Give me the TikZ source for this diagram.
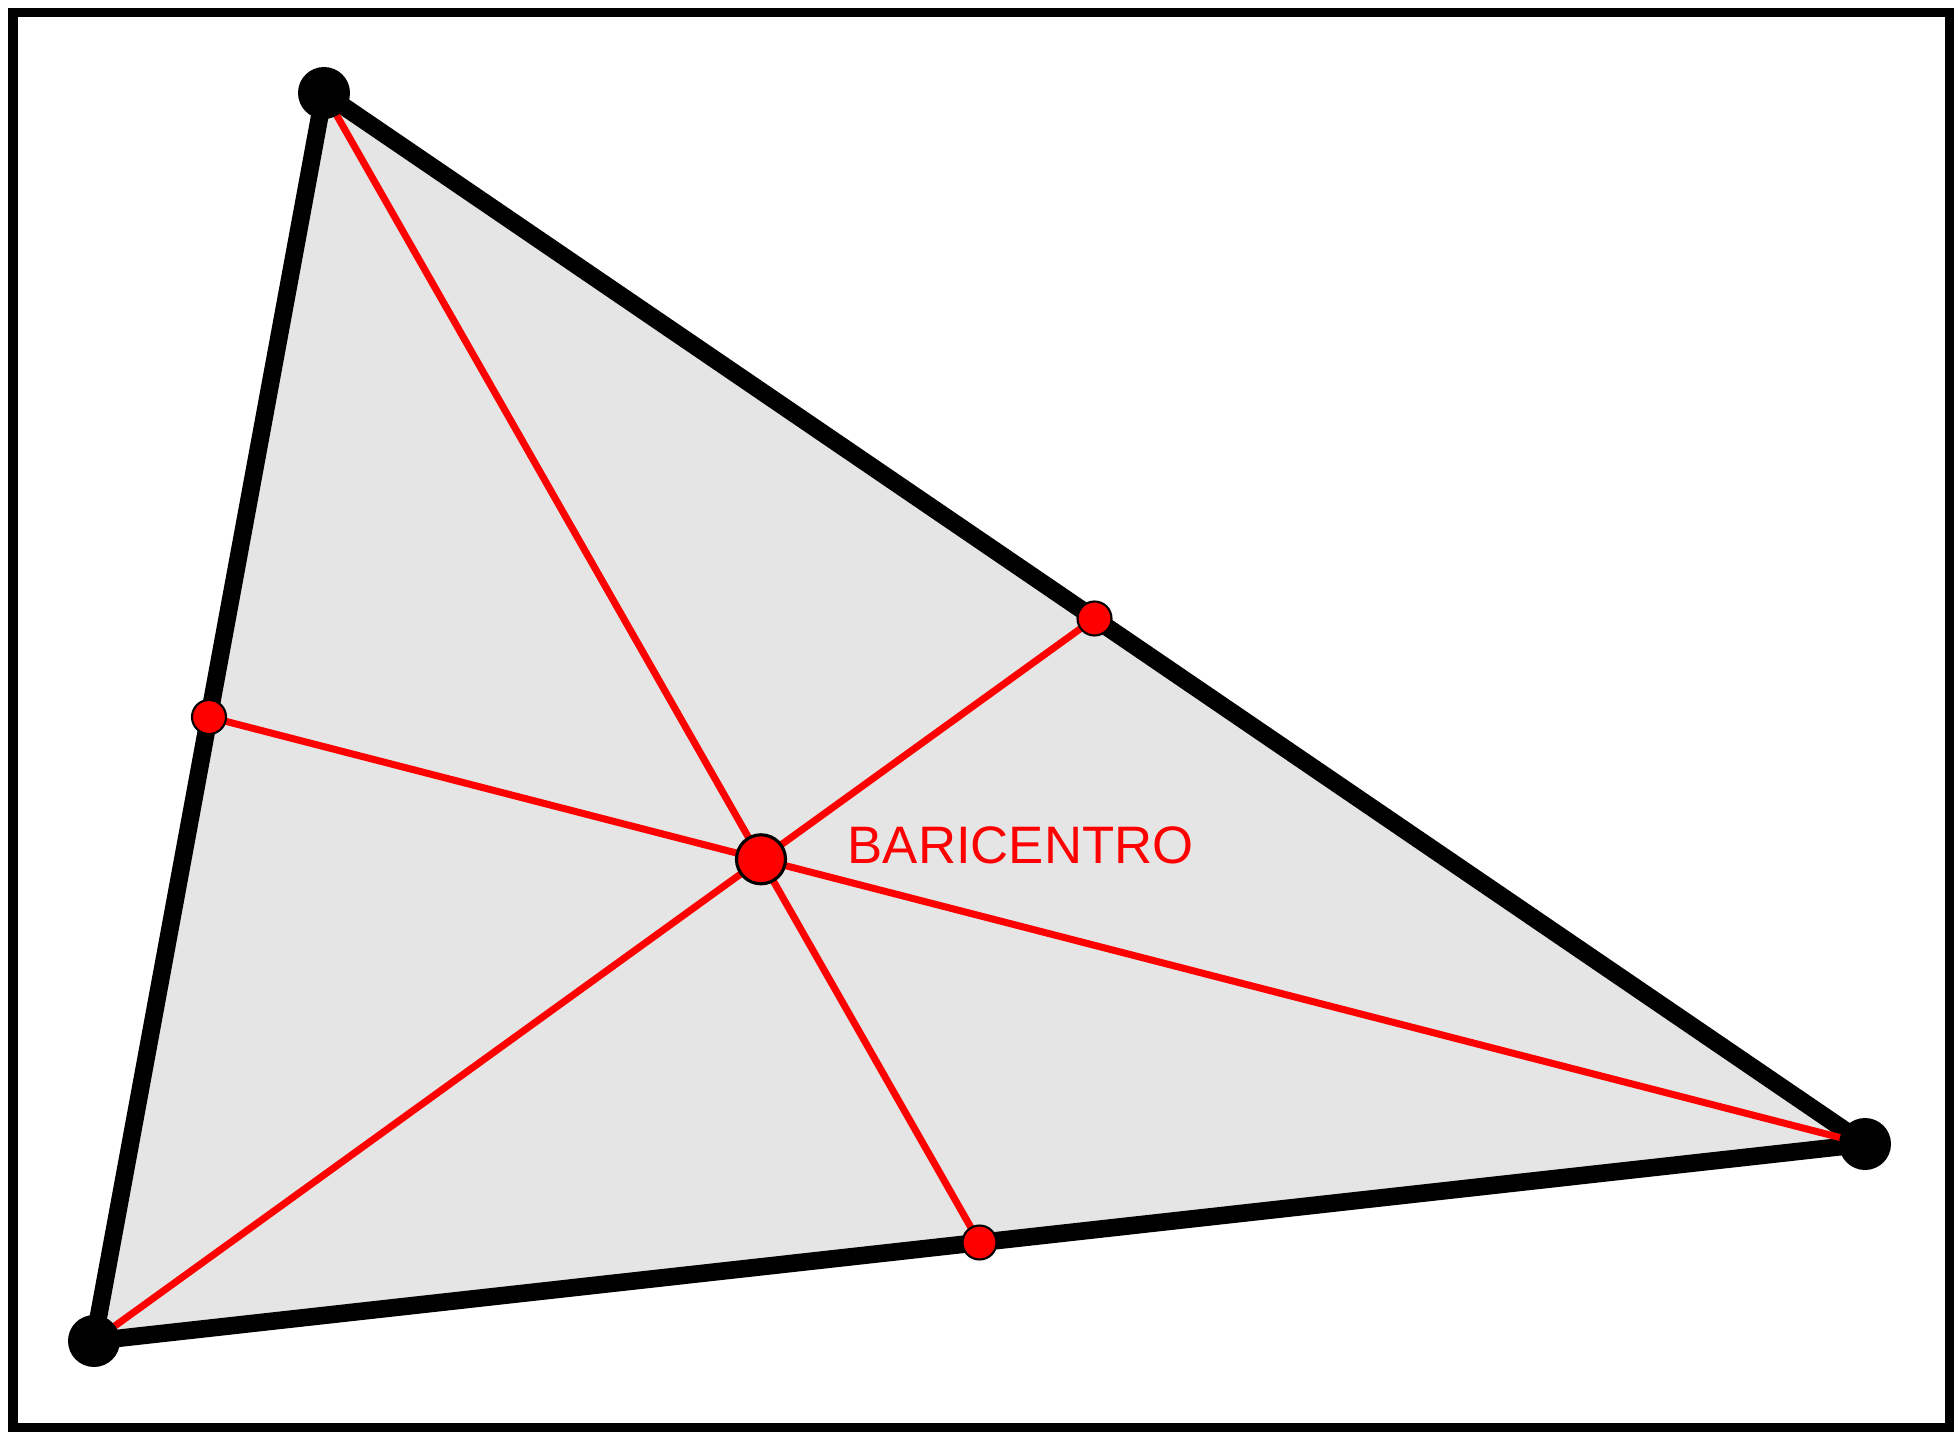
\documentclass[tikz,border=0pt]{standalone}
\usepackage{fontspec}
\setmainfont{Liberation Sans}
\usetikzlibrary{positioning}

\begin{document}
\begin{tikzpicture}[vertex/.style={draw=none,circle,fill=black,inner sep=0pt,minimum size=0.52cm},
  midpt/.style={draw=black,line width=0.6pt,circle,fill=red,inner sep=0pt,minimum size=0.34cm},
  centre/.style={draw=black,line width=0.9pt,circle,fill=red,inner sep=0pt,minimum size=0.49cm},
  median/.style={red,line width=2pt}]
  \useasboundingbox (0,0) rectangle (19.6,-14.38);
  \draw[line width=2.8pt] (0.13,-0.125) rectangle (19.495,-14.275);

  \coordinate (A) at (3.24,-0.93);
  \coordinate (B) at (0.94,-13.41);
  \coordinate (C) at (18.65,-11.44);

  \fill[black!10] (A)--(B)--(C)--cycle;
  \draw[line width=5pt,line join=round](A)--(B)--(C)--cycle;

  \coordinate (Mab) at (2.09,-7.17);
  \coordinate (Mac) at (10.945,-6.185);
  \coordinate (Mbc) at (9.795,-12.425);
  \coordinate (G) at (7.61,-8.593);

  \draw[median](A)--(Mbc);
  \draw[median](B)--(Mac);
  \draw[median](C)--(Mab);

  \node[vertex] (a) at (A){};
  \node[vertex] (b) at (B){};
  \node[vertex] (c) at (C){};

  \node[midpt] (mab) at (Mab){};
  \node[midpt] (mac) at (Mac){};
  \node[midpt] (mbc) at (Mbc){};
  \node[centre] (g) at (G){};

  \node[right=0.6cm of g,yshift=0.14cm,red,font=\fontsize{15}{18}\selectfont,inner sep=0pt] (bari){BARICENTRO};
\end{tikzpicture}
\end{document}
